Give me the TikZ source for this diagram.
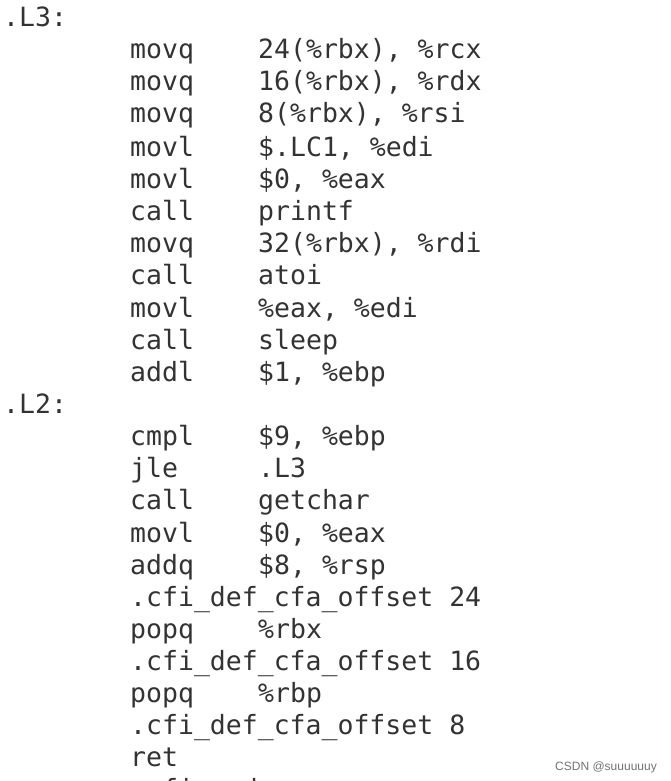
\documentclass[tikz,border=0pt]{standalone}
\usepackage{fontspec}
\setmonofont{DejaVu Sans Mono}
\setsansfont{Liberation Sans}
\begin{document}
\begin{tikzpicture}[x=1pt,y=-1pt,
 code/.style={anchor=base west,inner sep=0pt,font=\fontsize{26.5}{30}\ttfamily,text=black!80},
 wm/.style={anchor=base east,inner sep=0pt,font=\fontsize{12}{14}\sffamily,text=black!55}]
\useasboundingbox[fill=white] (0,0) rectangle (671,781);
\begin{scope}
\clip (0,0) rectangle (671,781);
\def\op#1#2#3#4{\node[code] (#1a) at (130,#2) {#3}; \node[code] (#1b) at (258,#2) {#4};}
\def\ln#1#2#3#4{\node[code] (#1) at (#2,#3) {#4};}
\ln{l3}{3}{27}{.L3:}
\op{a}{59}{movq}{24(\%rbx), \%rcx}
\op{b}{91}{movq}{16(\%rbx), \%rdx}
\op{c}{123}{movq}{8(\%rbx), \%rsi}
\op{d}{156}{movl}{\$.LC1, \%edi}
\op{e}{188}{movl}{\$0, \%eax}
\op{f}{220}{call}{printf}
\op{g}{252}{movq}{32(\%rbx), \%rdi}
\op{h}{284}{call}{atoi}
\op{i}{317}{movl}{\%eax, \%edi}
\op{j}{349}{call}{sleep}
\op{k}{381}{addl}{\$1, \%ebp}
\ln{l2}{3}{413}{.L2:}
\op{m}{445}{cmpl}{\$9, \%ebp}
\op{n}{477}{jle}{.L3}
\op{o}{509}{call}{getchar}
\op{p}{542}{movl}{\$0, \%eax}
\op{q}{574}{addq}{\$8, \%rsp}
\ln{r}{130}{606}{.cfi\_def\_cfa\_offset 24}
\op{s}{638}{popq}{\%rbx}
\ln{t}{130}{670}{.cfi\_def\_cfa\_offset 16}
\op{u}{702}{popq}{\%rbp}
\ln{v}{130}{734}{.cfi\_def\_cfa\_offset 8}
\ln{w}{130}{766}{ret}
\ln{x}{130}{798}{.cfi\_endproc}
\end{scope}
\node[wm] (wmk) at (657,770) {CSDN @suuuuuuy};
\end{tikzpicture}
\end{document}
